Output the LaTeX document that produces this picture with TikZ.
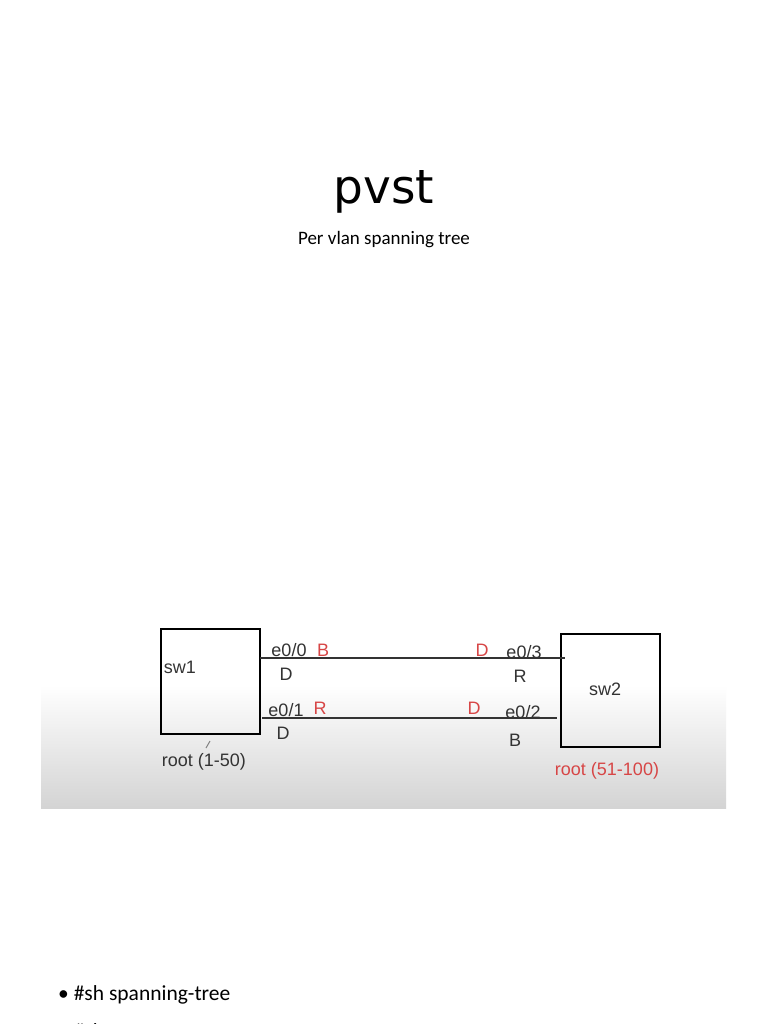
\documentclass[tikz,border=0pt]{standalone}
\usepackage{fontspec}
\setmainfont{Liberation Sans}
\newfontfamily\titlefont{DejaVu Sans}
\newfontfamily\bodyfont{Carlito}
\definecolor{lblred}{RGB}{215,70,70}
\begin{document}
\begin{tikzpicture}[x=1pt,y=-1pt,
  sw/.style={draw,line width=1.2pt},
  lbl/.style={font=\fontsize{18}{20}\selectfont,inner sep=0pt,text=black!80},
  rl/.style={lbl,text=lblred},
  lnk/.style={line width=1.1pt,black!80}]
\useasboundingbox (0,0) rectangle (768,1024);
\clip (0,0) rectangle (768,1024);
\fill[white] (0,0) rectangle (768,1024);
\shade[top color=white,bottom color=black!17] (41,685) rectangle (726,808);
\node[font=\titlefont\fontsize{47}{52}\selectfont] (title) at (384,192) {pvst};
\node[font=\bodyfont\fontsize{19}{22}\selectfont] (sub) at (384,240) {Per vlan spanning tree};
\draw[sw] (161,629) rectangle (260,734);
\draw[sw] (561,634) rectangle (660,747);
\coordinate (a1) at (260,658); \coordinate (b1) at (565,658);
\coordinate (a2) at (262,718); \coordinate (b2) at (557,718);
\draw[lnk] (a1) -- (b1);
\draw[lnk] (a2) -- (b2);
\node[lbl] (sw1) at (180,667) {sw1};
\node[lbl] (sw2) at (605,689) {sw2};
\node[lbl] (p00) at (289,650) {e0/0};
\node[rl] (p00s) at (323,650) {B};
\node[lbl] (p00r) at (286,674) {D};
\node[rl] (p03s) at (482,650) {D};
\node[lbl] (p03) at (524,652) {e0/3};
\node[lbl] (p03r) at (520,676) {R};
\node[lbl] (p01) at (286,710) {e0/1};
\node[rl] (p01s) at (320,708) {R};
\node[lbl] (p01r) at (283,733) {D};
\node[rl] (p02s) at (474,708) {D};
\node[lbl] (p02) at (523,712) {e0/2};
\node[lbl] (p02r) at (515,740) {B};
\node[lbl] (r1) at (204,762) {root (1-50)};
\node[rl] (r2) at (607,771) {root (51-100)};
\draw[black!50,line width=1pt] (206,748) -- (210,741);
\node[font=\bodyfont\fontsize{21.5}{24}\selectfont,anchor=west,inner sep=0pt] (b1t) at (58,995) {\textbullet\ \#sh spanning-tree};
\node[font=\bodyfont\fontsize{21.5}{24}\selectfont,anchor=west,inner sep=0pt] (b2t) at (58,1031) {\textbullet\ \#sh run};
\end{tikzpicture}
\end{document}
